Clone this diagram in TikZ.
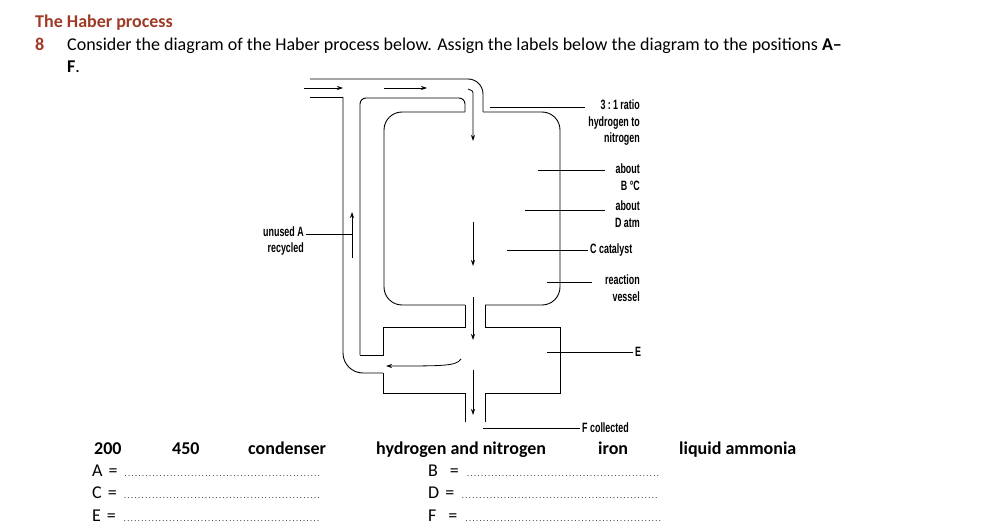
\documentclass[tikz,border=0pt]{standalone}
\usepackage{fontspec}
\setmainfont{Carlito}
\newfontfamily\lab[FakeStretch=0.66]{Liberation Sans Bold}
\usetikzlibrary{arrows.meta}
\definecolor{hdr}{HTML}{9E3A26}
\begin{document}
\begin{tikzpicture}[x=1pt,y=-1pt,
  pipe/.style={line width=0.9pt},
  flow/.style={line width=0.8pt,-{Stealth[length=6pt,width=4pt]}},
  lead/.style={line width=0.6pt},
  lbl/.style={font=\lab\fontsize{13.5}{16.5}\selectfont,inner sep=0pt},
  txt/.style={font=\fontsize{18}{20}\selectfont,anchor=base west,inner sep=0pt},
  btxt/.style={font=\bfseries\fontsize{18}{20}\selectfont,anchor=base west,inner sep=0pt}]
\useasboundingbox (0,0) rectangle (984,532);
% header
\node[btxt,text=hdr] (title) at (35,28) {The Haber process};
\node[btxt,text=hdr] (num) at (35,51) {8};
\node[txt] (q1) at (67,51) {Consider the diagram of the Haber process below. Assign the labels below the diagram to the positions \textbf{A–}};
\node[txt] (q2) at (67,73) {\textbf{F}.};
% pipes
\draw[pipe,rounded corners=15pt] (310,79) -- (483,79) -- (483,112);
\draw[pipe,rounded corners=18pt] (483,112) -- (560,112) -- (560,305) -- (485,305);
\draw[pipe] (485,305) -- (485,327) -- (560,327) -- (560,393) -- (485,393) -- (485,422);
\draw[pipe] (310,97) -- (343,97);
\draw[pipe,rounded corners=20pt] (343,97) -- (343,373) -- (383,373);
\draw[pipe] (383,373) -- (383,393) -- (465,393) -- (465,422);
\draw[pipe,rounded corners=18pt] (465,112) -- (384,112) -- (384,305) -- (465,305);
\draw[pipe,rounded corners=6pt] (465,112) -- (465,98) -- (360,98) -- (360,355);
\draw[pipe] (360,355) -- (383,355) -- (383,327) -- (465,327) -- (465,305);
% flow arrows
\coordinate (a1s) at (304,88); \coordinate (a1e) at (343,88);
\coordinate (a2s) at (384,88); \coordinate (a2e) at (427,88);
\draw[flow] (a1s) -- (a1e);
\draw[flow] (a2s) -- (a2e);
\coordinate (d1s) at (473,95); \coordinate (d1e) at (473,141);
\coordinate (d2s) at (473,222); \coordinate (d2e) at (473,266);
\coordinate (d3s) at (473,297); \coordinate (d3e) at (473,340);
\coordinate (d4s) at (473,370); \coordinate (d4e) at (473,415);
\coordinate (u1s) at (352,258); \coordinate (u1e) at (352,212);
\coordinate (l1s) at (461,359); \coordinate (l1e) at (386,366);
\draw[flow] (468,89) .. controls (473,91) .. (d1s) -- (d1e);
\draw[flow] (d2s) -- (d2e);
\draw[flow] (d3s) -- (d3e);
\draw[flow] (d4s) -- (d4e);
\draw[flow] (u1s) -- (u1e);
\draw[flow] (l1s) .. controls (456,366) and (445,366) .. (l1e);
% labels
\node[lbl,align=right,anchor=east] (A) at (304,241) {unused A\\recycled};
\coordinate (Ae) at (352,234);
\coordinate (As) at (306,234);
\draw[lead] (As) -- (Ae);
\node[lbl,align=right,anchor=north east] (R) at (640,100) {3\,:\,1 ratio\\hydrogen to\\nitrogen};
\coordinate (Rs) at (490,107);
\draw[lead] (Rs) -- (585,107);
\node[lbl,align=right,anchor=north east] (B) at (640,164) {about\\B \textdegree C};
\coordinate (Bs) at (538,170);
\draw[lead] (Bs) -- (605,170);
\node[lbl,align=right,anchor=north east] (D) at (640,201) {about\\D atm};
\coordinate (Ds) at (525,210);
\draw[lead] (Ds) -- (605,210);
\node[lbl,anchor=west] (C) at (590,250) {C catalyst};
\coordinate (Cs) at (507,250);
\draw[lead] (Cs) -- ([xshift=-2pt]C.west);
\node[lbl,align=right,anchor=north east] (V) at (640,275) {reaction\\vessel};
\coordinate (Vs) at (547,282);
\draw[lead] (Vs) -- (592,282);
\node[lbl,anchor=west] (E) at (635,352) {E};
\coordinate (Es) at (547,352);
\draw[lead] (Es) -- ([xshift=-2pt]E.west);
\node[lbl,anchor=west] (F) at (582,428) {F collected};
\coordinate (Fs) at (483,428);
\draw[lead] (Fs) -- ([xshift=-2pt]F.west);
% word bank
\node[btxt] (w1) at (94,454) {200};
\node[btxt] (w2) at (172,454) {450};
\node[btxt] (w3) at (248,454) {condenser};
\node[btxt] (w4) at (376,454) {hydrogen and nitrogen};
\node[btxt] (w5) at (598,454) {iron};
\node[btxt] (w6) at (679,454) {liquid ammonia};
\newcommand{\dotline}{\fontsize{8}{8}\selectfont\dotfill}
\node[txt,text width=229pt] (fa) at (92,476) {A = \dotline};
\node[txt,text width=233pt] (fb) at (428,476) {B \ = \dotline};
\node[txt,text width=229pt] (fc) at (92,498) {C = \dotline};
\node[txt,text width=231pt] (fd) at (428,498) {D = \dotline};
\node[txt,text width=229pt] (fe) at (92,521) {E = \dotline};
\node[txt,text width=235pt] (ff) at (428,521) {F \ = \dotline};
\end{tikzpicture}
\end{document}
